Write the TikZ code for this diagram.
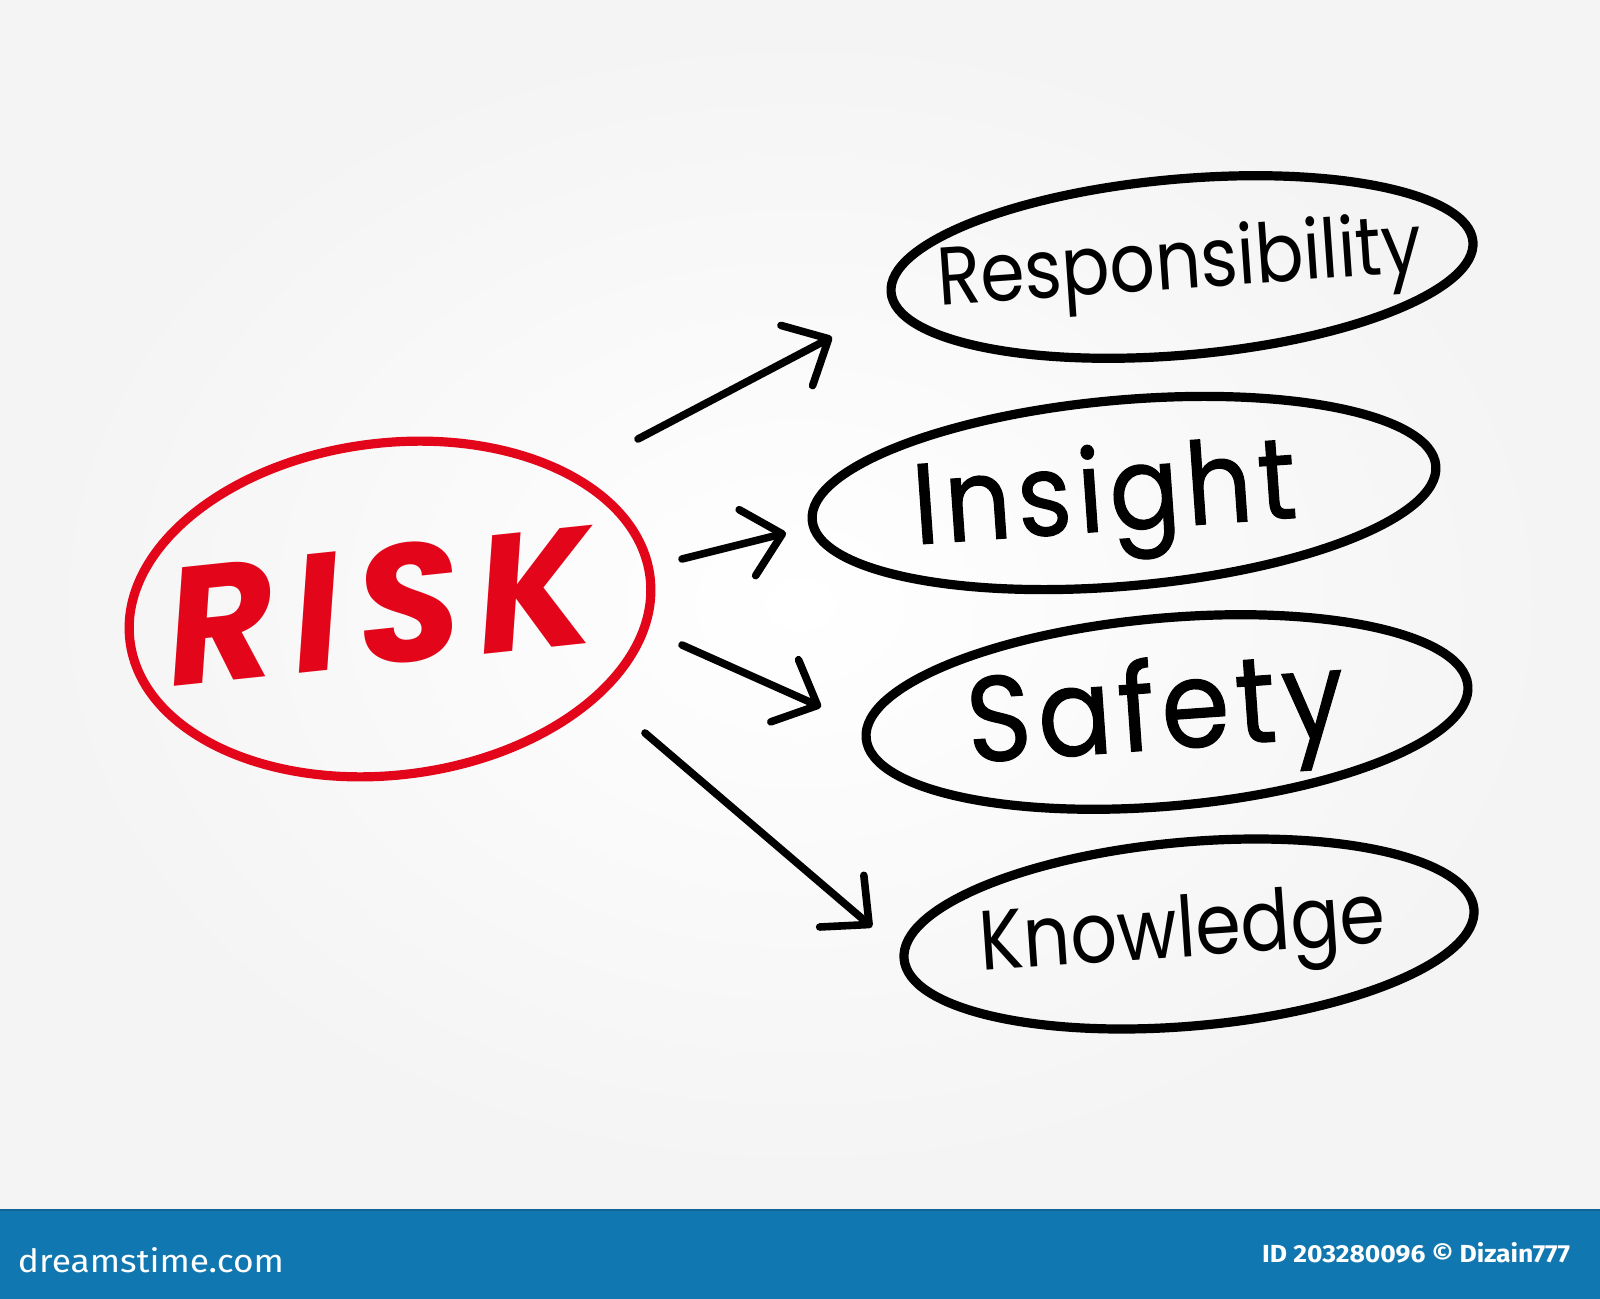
\documentclass[tikz,border=0pt]{standalone}
\usepackage{fontspec}
\setmainfont{Poppins}
\newfontfamily\handfont{Poppins}
\newfontfamily\handthick{Poppins}[FakeBold=1.0,LetterSpace=6]
\newfontfamily\riskfont{Poppins}[LetterSpace=10]
\newfontfamily\barfont{Fira Sans}
\usetikzlibrary{shapes.geometric,arrows.meta}
\definecolor{riskred}{HTML}{E3061B}
\definecolor{barblue}{HTML}{1177B0}
\begin{document}
\begin{tikzpicture}[x=0.5pt,y=-0.5pt,
  oval/.style={ellipse, draw, line width=4.6pt, inner sep=0pt},
  word/.style={inner sep=0pt, font=\handfont},
  arr/.style={line width=3.8pt, line cap=round,
    -{Straight Barb[length=18pt,width=34pt,line width=3.8pt,round]}},
  bartext/.style={inner sep=0pt, text=white, font=\barfont}
]
\useasboundingbox (0,0) rectangle (1600,1299);
\shade[inner color=white, outer color=gray!9] (0,0) rectangle (1600,1209);
\fill[barblue] (0,1209) rectangle (1600,1299);
\draw[barblue!85!black, line width=1pt] (0,1210) -- (1600,1210);

% red RISK
\node[oval, draw=riskred, minimum width=262pt, minimum height=166pt, rotate=7] (risk) at (390,609) {};
\node[word, text=riskred, rotate=6] (risktxt) at (379,606) {\resizebox{214pt}{!}{\riskfont\bfseries\itshape RISK}};

% right ellipses
\node[oval, minimum width=292pt, minimum height=88pt, rotate=5] (resp) at (1182,267) {};
\node[word, rotate=4] (resptxt) at (1180,268) {\scalebox{1}[1.15]{\resizebox{243pt}{!}{Responsibility}}};

\node[oval, minimum width=313pt, minimum height=93pt, rotate=5] (ins) at (1124,493) {};
\node[word, rotate=4] (instxt) at (1105,503) {\scalebox{1}[1.1]{\resizebox{192pt}{!}{\handthick Insight}}};

\node[oval, minimum width=302pt, minimum height=94pt, rotate=5] (saf) at (1167,712) {};
\node[word, rotate=4] (saftxt) at (1156,719) {\scalebox{1}[1.1]{\resizebox{189pt}{!}{\handthick Safety}}};

\node[oval, minimum width=286pt, minimum height=92pt, rotate=5] (know) at (1189,934) {};
\node[word, rotate=4] (knowtxt) at (1183,937) {\scalebox{1}[1.15]{\resizebox{203pt}{!}{Knowledge}}};

% arrows
\coordinate (t1) at (638,439); \coordinate (h1) at (832,337);
\coordinate (t2) at (682,559); \coordinate (h2) at (786,533);
\coordinate (t3) at (682,645); \coordinate (h3) at (821,707);
\coordinate (t4) at (645,733); \coordinate (h4) at (872,927);
\draw[arr] (t1) -- (h1);
\draw[arr] (t2) -- (h2);
\draw[arr] (t3) -- (h3);
\draw[arr] (t4) -- (h4);

% bottom bar
\node[bartext] (brand) at (151,1260) {\resizebox{133pt}{12.5pt}{dreamstime.com}};
\node[bartext] (idtxt) at (1416,1253) {\resizebox{154pt}{10pt}{\bfseries ID 203280096 © Dizain777}};
\end{tikzpicture}
\end{document}
